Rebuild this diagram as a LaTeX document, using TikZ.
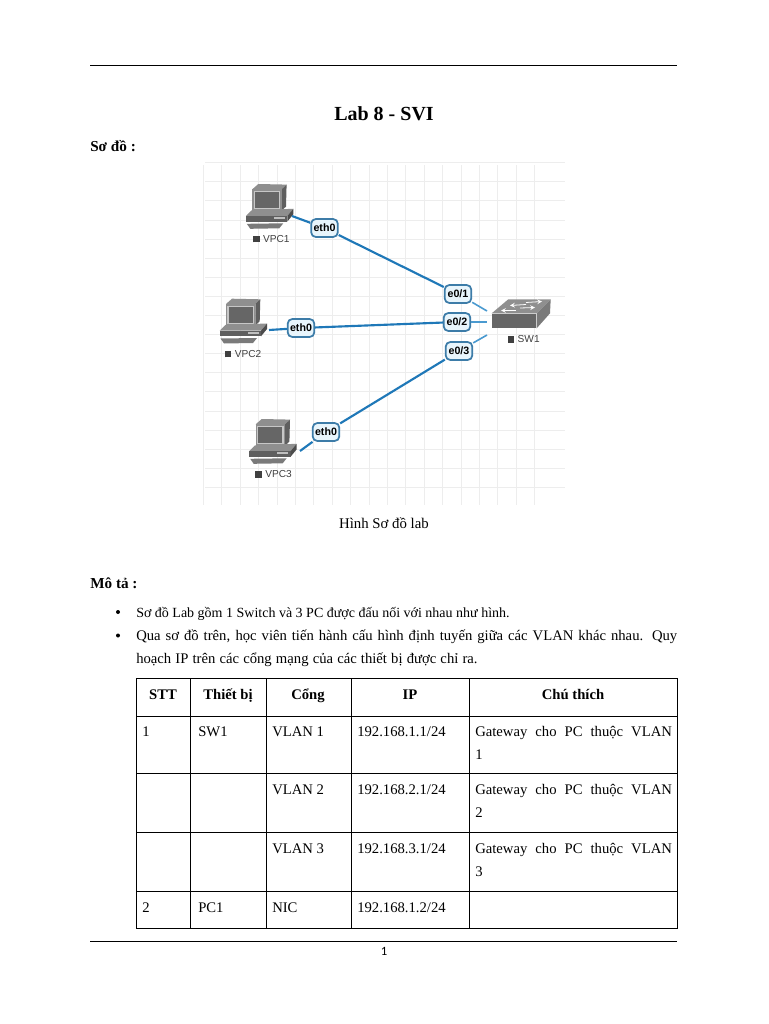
\documentclass[tikz,border=0pt]{standalone}
\usepackage{fontspec}
\setmainfont{Liberation Serif}
\newfontfamily\labfont{Liberation Sans}
\newfontfamily\pagefont{Carlito}
\usepackage{xcolor}
\usetikzlibrary{positioning}

\definecolor{linkblue}{HTML}{1F78B8}
\definecolor{linklight}{HTML}{4A9AD0}
\definecolor{tagfill}{HTML}{E8F5FC}
\definecolor{tagedge}{HTML}{3D7CA8}
\definecolor{gridgray}{HTML}{EDEDED}
\definecolor{icondark}{HTML}{5F5F5F}
\definecolor{iconmid}{HTML}{7A7A7A}
\definecolor{iconlite}{HTML}{8F8F8F}

\tikzset{
  body/.style={anchor=base west, inner sep=0pt, font=\fontsize{11}{16}\selectfont},
  bullettext/.style={anchor=base west, inner sep=0pt, font=\fontsize{10.5}{16}\selectfont},
  bodybold/.style={body, font=\fontsize{11.4}{16}\selectfont\bfseries},
  tblhead/.style={anchor=base, inner sep=0pt, font=\fontsize{11}{16}\selectfont\bfseries},
  tag/.style={draw=tagedge, line width=1.3pt, fill=tagfill, rounded corners=3.5pt, inner sep=0pt,
    minimum width=20pt, minimum height=13.5pt, font=\labfont\fontsize{8}{9}\selectfont\bfseries},
  devlabel/.style={anchor=west, inner sep=0pt, text=black!75, font=\labfont\fontsize{7.6}{8}\selectfont},
  link/.style={linkblue, line width=1.6pt},
  linkend/.style={linklight, line width=1.2pt},
  pics/vpc/.style={code={
    \fill[iconlite] (0,0) -- (6,-5.3) -- (34.3,-4.7) -- (29.3,0) -- cycle;
    \fill[icondark] (29.3,0) -- (34.3,-4.7) -- (33.7,17.3) -- (29.3,21.3) -- cycle;
    \fill[iconlite] (0,0) rectangle (29.3,21.3);
    \fill[black!22] (1.4,1.6) rectangle (27.9,20);
    \fill[black!60] (2.7,3) rectangle (26.7,19);
    \fill[iconlite] (-6.3,26.7) -- (-0.7,21) -- (41,19.5) -- (35,26.7) -- cycle;
    \fill[icondark] (-6.3,26.7) rectangle (35,32.3);
    \fill[black!70] (35,26.7) -- (41,19.5) -- (41,25) -- (35,32.3) -- cycle;
    \fill[black!25] (21.7,28) rectangle (32.7,30);
    \fill[iconmid] (-5.5,34.5) -- (31,34) -- (27,39) -- (-2,39.5) -- cycle;
  }}
}

\begin{document}
\begin{tikzpicture}[x=0.75pt,y=-0.75pt]
  \useasboundingbox (0,0) rectangle (768,1024);
  \fill[white] (0,0) rectangle (768,1024);

  % === PAGE HEAD ===
  \draw[black, line width=0.6pt] (90,65.7) -- (677,65.7);
  \node[anchor=base, inner sep=0pt, font=\fontsize{15}{18}\selectfont\bfseries] (title) at (384,120) {Lab 8 - SVI};
  \node[bodybold] (sodo) at (90,151) {Sơ đồ :};

  % === GRID BEHIND THE TOPOLOGY ===
  \foreach \i in {0,...,18} {
    \draw[gridgray, line width=0.5pt] (203.3+\i*18.4,165) -- (203.3+\i*18.4,505);
  }
  \foreach \i in {0,...,17} {
    \draw[gridgray, line width=0.5pt] (205,181.7+\i*19.1-19.1) -- (565,181.7+\i*19.1-19.1);
  }

  % === DEVICES ===
  \pic at (252.3,189.3) {vpc};
  \pic at (226,304) {vpc};
  \pic at (255.7,424.3) {vpc};

  % Switch
  \fill[iconlite] (491.7,313.3) -- (508.3,299.3) -- (550.7,299.3) -- (536.7,313.3) -- cycle;
  \fill[black!60] (491.7,313.3) rectangle (536.7,328.3);
  \fill[black!52] (536.7,313.3) -- (550.7,299.3) -- (550,313.3) -- (536.7,328.3) -- cycle;
  \draw[black!20, line width=0.6pt] (491.7,313.3) -- (536.7,313.3) -- (536.7,328.3);
  \draw[white, line width=0.6pt, -stealth] (526,304.5) -- (510,305.5);
  \draw[white, line width=0.6pt, -stealth] (526,302.5) -- (542,301.5);
  \draw[white, line width=0.6pt, -stealth] (516,310.5) -- (501,310.5);
  \draw[white, line width=0.6pt, -stealth] (520,308) -- (535,307.5);

  \node[devlabel] (vpc1) at (252.7,239) {\rule{5pt}{5pt}\hspace{2.6pt}VPC1};
  \node[devlabel] (vpc2) at (224.5,354) {\rule{5pt}{5pt}\hspace{2.6pt}VPC2};
  \node[devlabel] (vpc3) at (255,474.5) {\rule{5pt}{5pt}\hspace{2.6pt}VPC3};
  \node[devlabel] (sw1) at (507.3,339.5) {\rule{5pt}{5pt}\hspace{2.6pt}SW1};

  % === LINKS ===
  \coordinate (vpc1out) at (292,216);
  \coordinate (vpc2out) at (269,330);
  \coordinate (vpc3out) at (300,451);
  \coordinate (sw1in1) at (487,311);
  \coordinate (sw1in2) at (487,322);
  \coordinate (sw1in3) at (487,335);

  \node[tag] (eth1) at (324.5,228) {eth0};
  \node[tag] (eth2) at (301,328) {eth0};
  \node[tag] (eth3) at (326,432) {eth0};
  \node[tag] (e01) at (458,294) {e0/1};
  \node[tag] (e02) at (457,322) {e0/2};
  \node[tag] (e03) at (459,351) {e0/3};

  \draw[link] (vpc1out) -- (eth1);
  \draw[link] (eth1) -- (e01);
  \draw[linkend] (e01) -- (sw1in1);
  \draw[link] (vpc2out) -- (eth2);
  \draw[link] (eth2) -- (e02);
  \draw[linkend] (e02) -- (sw1in2);
  \draw[link] (vpc3out) -- (eth3);
  \draw[link] (eth3) -- (e03);
  \draw[linkend] (e03) -- (sw1in3);

  \node[anchor=base, inner sep=0pt, font=\fontsize{11.1}{16}\selectfont] (caption) at (384,528) {Hình Sơ đồ lab};

  % === DESCRIPTION ===
  \node[bodybold] (mota) at (90,588) {Mô tả :};
  \fill[black] (118,612) circle (2);
  \fill[black] (118,635.5) circle (2);
  \node[bullettext] (bullet1) at (136,617) {Sơ đồ Lab gồm 1 Switch và 3 PC được đấu nối với nhau như hình.};
  \node[body] (bullet2a) at (136,640) {\hbox to 405.75pt{Qua sơ đồ trên, học viên tiến hành cấu hình định tuyến giữa các VLAN khác nhau. Quy}};
  \node[body] (bullet2b) at (136,663) {\hbox to 256pt{hoạch IP trên các cổng mạng của các thiết bị được chỉ ra.}};

  % === TABLE ===
  \foreach \x in {136,190,266,351,469,677} {
    \draw[black, line width=0.7pt] (\x,678) -- (\x,928.5);
  }
  \foreach \y in {678,716,773,832,891,928.5} {
    \draw[black, line width=0.7pt] (136,\y) -- (677,\y);
  }

  % Header
  \foreach \x/\txt [count=\n] in {163/STT, 228/Thiết bị, 308/Cổng, 410/IP, 573/Chú thích} {
    \node[tblhead] (head\n) at (\x,699) {\txt};
  }

  % Rows
  \node[body] (stt1) at (142,736) {1};
  \node[body] (dev1) at (198,736) {SW1};
  \node[body] (port1) at (272,736) {VLAN 1};
  \node[body] (ip1) at (357,736) {192.168.1.1/24};
  \node[body] (port2) at (272,794) {VLAN 2};
  \node[body] (ip2) at (357,794) {192.168.2.1/24};
  \node[body] (port3) at (272,853) {VLAN 3};
  \node[body] (ip3) at (357,853) {192.168.3.1/24};
  \node[body] (stt4) at (142,912) {2};
  \node[body] (dev4) at (198,912) {PC1};
  \node[body] (port4) at (272,912) {NIC};
  \node[body] (ip4) at (357,912) {192.168.1.2/24};

  \foreach \y/\v [evaluate=\y as \yy using \y+23] in {736/1, 794/2, 853/3} {
    \node[body] (note\v) at (475,\y) {\hbox to 147.5pt{Gateway\hfill cho\hfill PC\hfill thuộc\hfill VLAN}};
    \node[body] (notenum\v) at (475,\yy) {\v};
  }

  % === PAGE FOOT ===
  \draw[black, line width=0.6pt] (90,941) -- (677,941);
  \node[anchor=base, inner sep=0pt, font=\pagefont\fontsize{9.5}{10}\selectfont] (pagenum) at (384,955) {1};
\end{tikzpicture}
\end{document}
